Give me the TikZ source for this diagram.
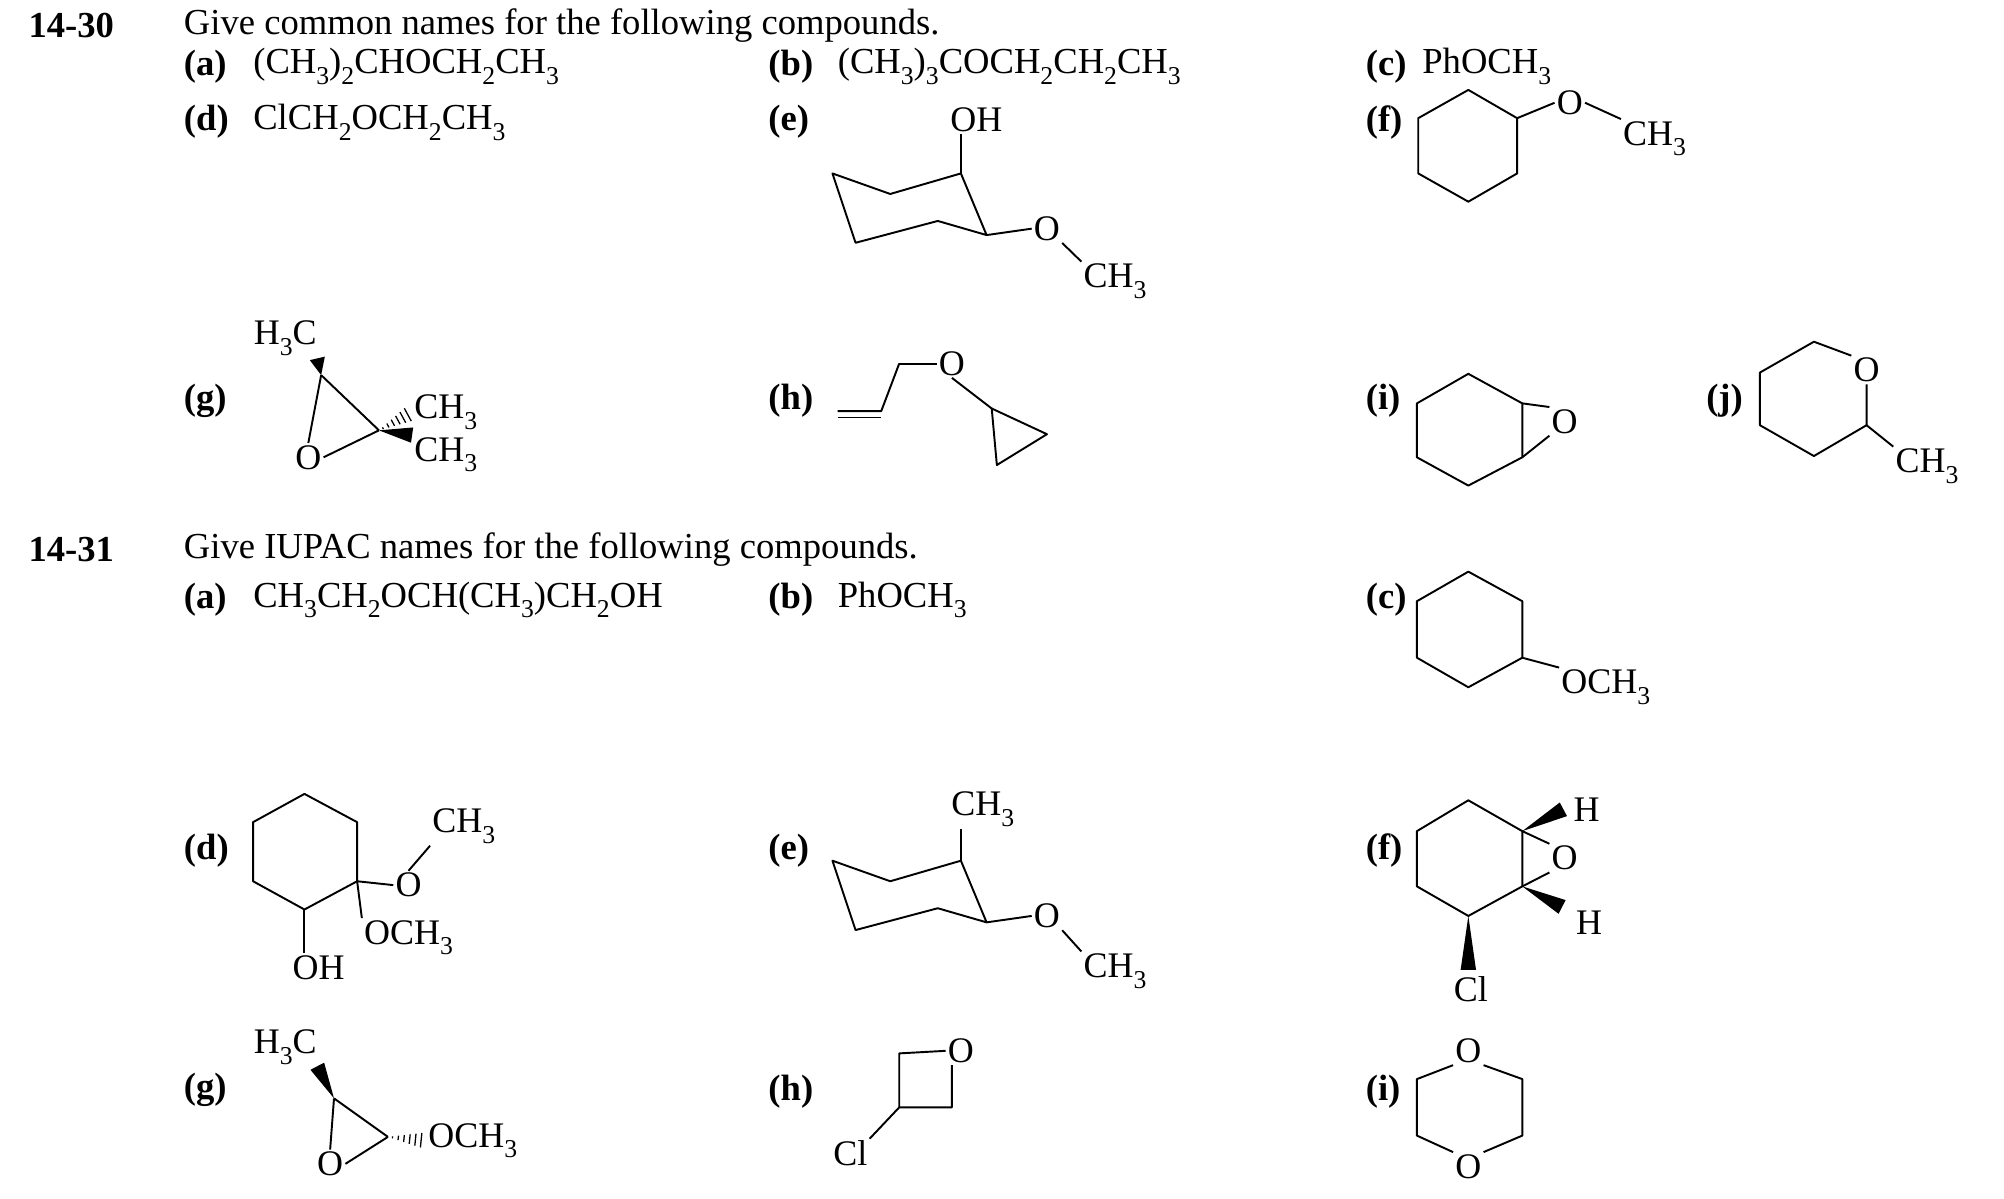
\documentclass[tikz,border=0pt]{standalone}
\usepackage{fontspec}
\setmainfont{Liberation Serif}
\usetikzlibrary{calc}
\newcommand\sbs[1]{\raisebox{-0.3em}{\fontsize{20}{20}\selectfont #1}}
\newcommand\wdg[2]{\fill (#2) -- ($(#1)!6pt!90:(#2)$) -- ($(#1)!6pt!-90:(#2)$) -- cycle;}
\newcommand\hsh[2]{\foreach \t in {0.12,0.27,...,0.95}{\coordinate (hp) at ($(#1)!\t!(#2)$);
 \draw[line width=1pt] ($(hp)!{\t*6.5pt}!90:(#1)$) -- ($(hp)!{\t*6.5pt}!-90:(#1)$);}}
\tikzset{txt/.style={anchor=west,inner sep=0pt,font=\fontsize{28.5}{32}\selectfont},
 atom/.style={inner sep=1pt,font=\fontsize{28}{32}\selectfont},
 bold/.style={txt,font=\fontsize{28.5}{32}\selectfont\bfseries},
 bd/.style={line width=1.5pt,line join=round}}
\begin{document}
\begin{tikzpicture}[x=1pt,y=-1pt]
\useasboundingbox (0,0) rectangle (1560,933);
% headers 14-30
\node[bold] (h1) at (22,20) {14-30};
\node[txt] (t1) at (143,20) {Give common names for the following compounds.};
\node[bold] (la) at (143,52) {(a)};
\node[txt] (fa) at (197,52) {(CH\sbs3)\sbs2CHOCH\sbs2CH\sbs3};
\node[bold] (lb) at (598,52) {(b)};
\node[txt] (fb) at (652,52) {(CH\sbs3)\sbs3COCH\sbs2CH\sbs2CH\sbs3};
\node[bold] (lc) at (1063,52) {(c)};
\node[txt] (fc) at (1107,52) {PhOCH\sbs3};
\node[bold] (ld) at (143,95) {(d)};
\node[txt] (fd) at (197,95) {ClCH\sbs2OCH\sbs2CH\sbs3};
\node[bold] (le) at (598,95) {(e)};
\node[bold] (lf) at (1063,95) {(f)};
% (e) chair
\begin{scope}[bd]
\coordinate (ea) at (648,135); \coordinate (eb) at (693,151); \coordinate (ec) at (748,135);
\coordinate (ed) at (768,183); \coordinate (ee) at (730,172); \coordinate (ef) at (666,189);
\draw (ea)--(eb)--(ec)--(ed)--(ee)--(ef)--cycle;
\node[atom] (eoh) at (760,93) {OH};
\draw (ec)--(eoh.south -| ec);
\node[atom] (eo) at (815,178) {O};
\draw (ed)--(eo.west);
\node[atom] (ech) at (868,219) {CH\sbs3};
\draw (eo.south east)--(ech.north west);
\end{scope}
% (f) methoxycyclohexane
\begin{scope}[bd]
\coordinate (fa1) at (1143,70); \coordinate (fa2) at (1181,92); \coordinate (fa3) at (1181,135);
\coordinate (fa4) at (1143,157); \coordinate (fa5) at (1104,135); \coordinate (fa6) at (1104,92);
\draw (fa1)--(fa2)--(fa3)--(fa4)--(fa5)--(fa6)--cycle;
\node[atom] (fo) at (1222,80) {O};
\draw (fa2)--(fo.west);
\node[atom] (fch) at (1288,108) {CH\sbs3};
\draw (fo.east)--(fch.north west);
\end{scope}
% (g)
\node[bold] (lg) at (143,312) {(g)};
\begin{scope}[bd]
\node[atom] (gh) at (222,263) {H\sbs3C};
\coordinate (g1) at (250,292); \coordinate (g2) at (295,335);
\node[atom] (go) at (240,356) {O};
\draw (g1)--(g2); \draw (g1)--(go.north); \draw (go.east)--(g2);
\wdg{247,279}{g1}
\node[atom] (gc1) at (347,321) {CH\sbs3};
\node[atom] (gc2) at (347,354) {CH\sbs3};
\hsh{g2}{gc1.west}
\wdg{gc2.north west}{g2}
\end{scope}
% (h)
\node[bold] (lh) at (598,312) {(h)};
\begin{scope}[bd]
\coordinate (h1) at (652,320); \coordinate (h2) at (686,320); \coordinate (h3) at (700,283);
\draw (h1)--(h2)--(h3); \draw ($(h1)+(0,5)$)--($(h2)+(0,5)$);
\node[atom] (ho) at (741,283) {O};
\draw (h3)--(ho.west);
\coordinate (hc1) at (772,318); \coordinate (hc2) at (815,338); \coordinate (hc3) at (776,362);
\draw (ho.south)--(hc1); \draw (hc1)--(hc2)--(hc3)--cycle;
\end{scope}
% (i)
\node[bold] (li) at (1063,312) {(i)};
\begin{scope}[bd]
\coordinate (i1) at (1143,291); \coordinate (i2) at (1185,314); \coordinate (i3) at (1185,356);
\coordinate (i4) at (1143,378); \coordinate (i5) at (1103,356); \coordinate (i6) at (1103,314);
\draw (i1)--(i2)--(i3)--(i4)--(i5)--(i6)--cycle;
\node[atom] (io) at (1218,328) {O};
\draw (i2)--(io.north west); \draw (i3)--(io.south west);
\end{scope}
% (j)
\node[bold] (lj) at (1328,312) {(j)};
\begin{scope}[bd]
\coordinate (j1) at (1370,290); \coordinate (j2) at (1412,266); \node[atom] (jo) at (1453,288) {O};
\coordinate (j4) at (1453,331); \coordinate (j5) at (1412,355); \coordinate (j6) at (1370,331);
\draw (jo.north west)--(j2)--(j1)--(j6)--(j5)--(j4)--(jo.south);
\node[atom] (jch) at (1500,363) {CH\sbs3};
\draw (j4)--(jch.north west);
\end{scope}
% 14-31
\node[bold] (h2t) at (22,428) {14-31};
\node[txt] (t2) at (143,428) {Give IUPAC names for the following compounds.};
\node[bold] (la2) at (143,467) {(a)};
\node[txt] (fa2t) at (197,467) {CH\sbs3CH\sbs2OCH(CH\sbs3)CH\sbs2OH};
\node[bold] (lb2) at (598,467) {(b)};
\node[txt] (fb2) at (652,467) {PhOCH\sbs3};
\node[bold] (lc2) at (1063,467) {(c)};
\begin{scope}[bd]
\coordinate (c1) at (1143,445); \coordinate (c2) at (1185,468); \coordinate (c3) at (1185,512);
\coordinate (c4) at (1143,535); \coordinate (c5) at (1103,512); \coordinate (c6) at (1103,468);
\draw (c1)--(c2)--(c3)--(c4)--(c5)--(c6)--cycle;
\node[atom] (coch) at (1250,535) {OCH\sbs3};
\draw (c3)--(coch.north west);
\end{scope}
% (d)
\node[bold] (ld2) at (143,662) {(d)};
\begin{scope}[bd]
\coordinate (d1) at (237,618); \coordinate (d2) at (278,640); \coordinate (d3) at (278,686);
\coordinate (d4) at (237,708); \coordinate (d5) at (197,686); \coordinate (d6) at (197,640);
\draw (d1)--(d2)--(d3)--(d4)--(d5)--(d6)--cycle;
\node[atom] (dco) at (318,689) {O};
\draw (d3)--(dco.west);
\node[atom] (dch) at (361,643) {CH\sbs3};
\draw (dco.north)--(dch.south west);
\node[atom] (doch) at (318,730) {OCH\sbs3};
\draw (d3)--(doch.north west);
\node[atom] (doh) at (248,753) {OH};
\draw (d4)--(d4 |- doh.north);
\end{scope}
% (e) lower
\node[bold] (le2) at (598,662) {(e)};
\begin{scope}[bd,yshift=-535pt]
\coordinate (Ea) at (648,135); \coordinate (Eb) at (693,151); \coordinate (Ec) at (748,135);
\coordinate (Ed) at (768,183); \coordinate (Ee) at (730,172); \coordinate (Ef) at (666,189);
\draw (Ea)--(Eb)--(Ec)--(Ed)--(Ee)--(Ef)--cycle;
\node[atom] (Ech1) at (765,95) {CH\sbs3};
\draw (Ec)--(Ec |- Ech1.south);
\node[atom] (Eo) at (815,178) {O};
\draw (Ed)--(Eo.west);
\node[atom] (Ech) at (868,221) {CH\sbs3};
\draw (Eo.south east)--(Ech.north west);
\end{scope}
% (f) lower
\node[bold] (lf2) at (1063,662) {(f)};
\begin{scope}[bd]
\coordinate (F1) at (1143,623); \coordinate (F2) at (1185,647); \coordinate (F3) at (1185,690);
\coordinate (F4) at (1143,713); \coordinate (F5) at (1103,690); \coordinate (F6) at (1103,647);
\draw (F1)--(F2)--(F3)--(F4)--(F5)--(F6)--cycle;
\node[atom] (Fo) at (1218,668) {O};
\draw (F2)--(Fo.north west); \draw (F3)--(Fo.south west);
\node[atom] (Fh1) at (1235,630) {H};
\node[atom] (Fh2) at (1237,718) {H};
\wdg{1217,630}{F2}
\wdg{1216,706}{F3}
\node[atom] (Fcl) at (1145,770) {Cl};
\wdg{1143,755}{F4}
\end{scope}
% (g) lower
\node[bold] (lg2) at (143,848) {(g)};
\begin{scope}[bd]
\node[atom] (Gh) at (222,815) {H\sbs3C};
\coordinate (G1) at (260,855); \coordinate (G2) at (302,885);
\node[atom] (Go) at (257,906) {O};
\draw (G1)--(G2); \draw (G1)--(Go.north); \draw (Go.east)--(G2);
\wdg{247,830}{G1}
\node[atom] (Goch) at (368,888) {OCH\sbs3};
\hsh{G2}{Goch.west}
\end{scope}
% (h) lower
\node[bold] (lh2) at (598,850) {(h)};
\begin{scope}[bd]
\coordinate (H1) at (700,820); \node[atom] (Ho) at (748,818) {O};
\coordinate (H3) at (741,862); \coordinate (H4) at (700,862);
\draw (Ho.west)--(H1)--(H4)--(H3)--(Ho.south -| H3);
\node[atom] (Hcl) at (662,898) {Cl};
\draw (H4)--(Hcl.north east);
\end{scope}
% (i) lower
\node[bold] (li2) at (1063,850) {(i)};
\begin{scope}[bd]
\node[atom] (Io1) at (1143,818) {O}; \coordinate (I2) at (1185,840); \coordinate (I3) at (1185,884);
\node[atom] (Io2) at (1143,908) {O}; \coordinate (I5) at (1103,884); \coordinate (I6) at (1103,840);
\draw (Io1.south east)--(I2)--(I3)--(Io2.north east);
\draw (Io2.north west)--(I5)--(I6)--(Io1.south west);
\end{scope}
\end{tikzpicture}
\end{document}
